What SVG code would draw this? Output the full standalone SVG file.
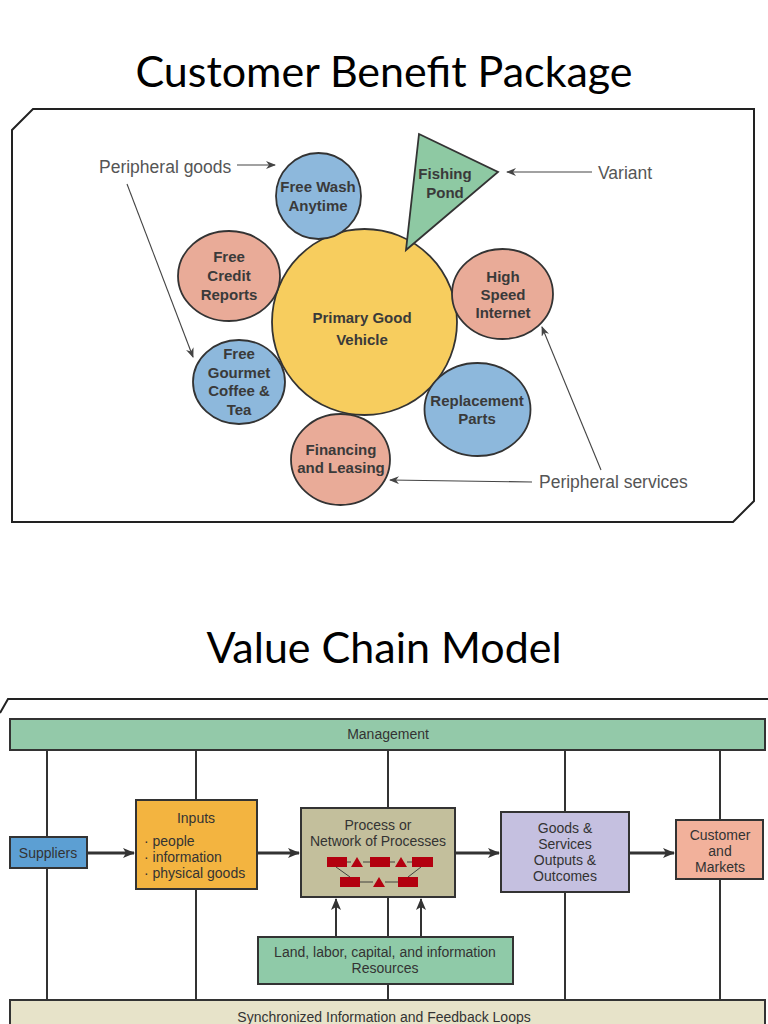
<svg xmlns="http://www.w3.org/2000/svg" width="768" height="1024" viewBox="0 0 768 1024">
<defs>
<style>
.title{font-family:Lato,"Open Sans","Liberation Sans",sans-serif;font-size:43px;fill:#000;text-anchor:middle}
.cl{font-family:"Liberation Sans",Arial,sans-serif;font-weight:bold;font-size:15px;fill:#3a3a3a;text-anchor:middle}
.lbl{font-family:"Liberation Sans",Arial,sans-serif;font-size:17.5px;fill:#555}
.vt{font-family:"Liberation Sans",Arial,sans-serif;font-size:14px;fill:#333;text-anchor:middle}
.frame{fill:#fff;stroke:#222;stroke-width:2}
.node{stroke:#333;stroke-width:1.8}
.blue{fill:#8db8dc}
.salmon{fill:#e9ab98}
.box{stroke:#333;stroke-width:2}
.thin{stroke:#444;stroke-width:1.1;fill:none}
.vl{stroke:#333;stroke-width:2;fill:none}
.fa{stroke:#333;stroke-width:3;fill:none}
.red{fill:#b3000f}
.rl{stroke:#333;stroke-width:0.9;fill:none}
</style>
<marker id="ah" markerWidth="10" markerHeight="8" refX="9" refY="4" orient="auto" markerUnits="userSpaceOnUse">
<path d="M0,0 L10,4 L0,8 L3,4 Z" fill="#444"/>
</marker>
<marker id="ah2" markerWidth="12" markerHeight="10" refX="11" refY="5" orient="auto" markerUnits="userSpaceOnUse">
<path d="M0,0 L12,5 L0,10 L3,5 Z" fill="#333"/>
</marker>
</defs>
<rect width="768" height="1024" fill="#fff"/>

<text class="title" x="384" y="87">Customer Benefit Package</text>
<polygon class="frame" points="12,130 33,109 754,109 754,501 733,522 12,522"/>

<g id="connectors-top">
<line class="thin" x1="237" y1="165" x2="275" y2="165" marker-end="url(#ah)"/>
<line class="thin" x1="127" y1="184" x2="193" y2="357" marker-end="url(#ah)"/>
<line class="thin" x1="592" y1="172" x2="507" y2="172" marker-end="url(#ah)"/>
<line class="thin" x1="532" y1="482" x2="390" y2="480" marker-end="url(#ah)"/>
<line class="thin" x1="601" y1="470" x2="542" y2="327" marker-end="url(#ah)"/>
</g>

<g id="primary">
<ellipse class="node" cx="364.5" cy="322" rx="92.5" ry="93" fill="#f7cd5e"/>
<text class="cl" x="362" y="323" font-size="16.5">Primary Good</text>
<text class="cl" x="362" y="345" font-size="16.5">Vehicle</text>
</g>
<g id="fishing">
<polygon class="node" points="419,134 498,172 406,250" fill="#8ec9a3"/>
<text class="cl" x="445" y="179">Fishing</text>
<text class="cl" x="445" y="198">Pond</text>
</g>
<g id="freewash">
<ellipse class="node blue" cx="318.5" cy="196" rx="42.5" ry="43"/>
<text class="cl" x="318" y="192">Free Wash</text>
<text class="cl" x="318" y="211">Anytime</text>
</g>
<g id="credit">
<ellipse class="node salmon" cx="229" cy="276" rx="51" ry="45"/>
<text class="cl" x="229" y="262">Free</text>
<text class="cl" x="229" y="281">Credit</text>
<text class="cl" x="229" y="300">Reports</text>
</g>
<g id="coffee">
<ellipse class="node blue" cx="239" cy="382" rx="46" ry="42"/>
<text class="cl" x="239" y="359">Free</text>
<text class="cl" x="239" y="378">Gourmet</text>
<text class="cl" x="239" y="396">Coffee &amp;</text>
<text class="cl" x="239" y="415">Tea</text>
</g>
<g id="financing">
<ellipse class="node salmon" cx="340.5" cy="459.5" rx="49.5" ry="45.5"/>
<text class="cl" x="341" y="455">Financing</text>
<text class="cl" x="341" y="473">and Leasing</text>
</g>
<g id="replacement">
<ellipse class="node blue" cx="477.5" cy="409.5" rx="53" ry="46.5"/>
<text class="cl" x="477" y="406">Replacement</text>
<text class="cl" x="477" y="424">Parts</text>
</g>
<g id="internet">
<ellipse class="node salmon" cx="502.5" cy="294" rx="50.5" ry="45"/>
<text class="cl" x="503" y="282">High</text>
<text class="cl" x="503" y="300">Speed</text>
<text class="cl" x="503" y="318">Internet</text>
</g>
<g id="labels-top">
<text class="lbl" x="99" y="173">Peripheral goods</text>
<text class="lbl" x="598" y="179">Variant</text>
<text class="lbl" x="539" y="488">Peripheral services</text>
</g>

<text class="title" x="384" y="663">Value Chain Model</text>
<polyline points="0,713 8,699 768,699" fill="none" stroke="#222" stroke-width="2"/>

<g id="connectors-vc">
<path class="vl" d="M47,750 V837 M47,868 V1000 M196,750 V800 M196,889 V1000 M388,750 V808 M388,897 V937 M388,984 V1000 M565,750 V812 M565,892 V1000 M720,750 V820 M720,879 V1000"/>
<line class="fa" x1="87" y1="853" x2="134" y2="853" marker-end="url(#ah2)"/>
<line class="fa" x1="257" y1="853" x2="299" y2="853" marker-end="url(#ah2)"/>
<line class="fa" x1="455" y1="853" x2="499" y2="853" marker-end="url(#ah2)"/>
<line class="fa" x1="629" y1="853" x2="674" y2="853" marker-end="url(#ah2)"/>
<line class="vl" x1="336" y1="937" x2="336" y2="899" marker-end="url(#ah2)"/>
<line class="vl" x1="421" y1="937" x2="421" y2="899" marker-end="url(#ah2)"/>
</g>

<g id="management">
<rect class="box" x="10" y="719" width="755" height="31" fill="#93c9a9"/>
<text class="vt" x="388" y="739" font-size="14.5">Management</text>
</g>
<g id="feedback">
<rect class="box" x="10" y="1000" width="755" height="30" fill="#e7e3c9"/>
<text class="vt" x="384" y="1022">Synchronized Information and Feedback Loops</text>
</g>
<g id="suppliers">
<rect class="box" x="10" y="837" width="77" height="31" fill="#5c9fd3"/>
<text class="vt" x="48" y="858">Suppliers</text>
</g>
<g id="inputs">
<rect class="box" x="136" y="800" width="121" height="89" fill="#f3b440"/>
<text class="vt" x="196" y="823" font-size="15">Inputs</text>
<text class="vt" x="144" y="846" style="text-anchor:start">· people</text>
<text class="vt" x="144" y="862" style="text-anchor:start">· information</text>
<text class="vt" x="144" y="878" style="text-anchor:start">· physical goods</text>
</g>
<g id="process">
<rect class="box" x="301" y="808" width="154" height="89" fill="#c3bf9c"/>
<text class="vt" x="378" y="830">Process or</text>
<text class="vt" x="378" y="846">Network of Processes</text>
<rect class="red" x="327" y="857" width="20" height="10"/>
<polygon class="red" points="351,867 357,857 363,867"/>
<rect class="red" x="370" y="857" width="20" height="10"/>
<polygon class="red" points="395,867 401,857 407,867"/>
<rect class="red" x="412" y="857" width="21" height="10"/>
<rect class="red" x="340" y="877" width="20" height="10"/>
<polygon class="red" points="373,887 379,877 385,887"/>
<rect class="red" x="398" y="877" width="20" height="10"/>
<path class="rl" d="M347,862 H351 M363,862 H370 M390,862 H395 M407,862 H412 M360,882 H373 M385,882 H398 M336,867 L350,877 M408,877 L421,867"/>
</g>
<g id="goods">
<rect class="box" x="501" y="812" width="128" height="80" fill="#c5c0e0"/>
<text class="vt" x="565" y="833">Goods &amp;</text>
<text class="vt" x="565" y="849">Services</text>
<text class="vt" x="565" y="865">Outputs &amp;</text>
<text class="vt" x="565" y="881">Outcomes</text>
</g>
<g id="customer">
<rect class="box" x="676" y="820" width="87" height="59" fill="#f2b19b"/>
<text class="vt" x="720" y="840">Customer</text>
<text class="vt" x="720" y="856">and</text>
<text class="vt" x="720" y="872">Markets</text>
</g>
<g id="resources">
<rect class="box" x="258" y="937" width="255" height="47" fill="#8fcaa8"/>
<text class="vt" x="385" y="957">Land, labor, capital, and information</text>
<text class="vt" x="385" y="973">Resources</text>
</g>
</svg>
